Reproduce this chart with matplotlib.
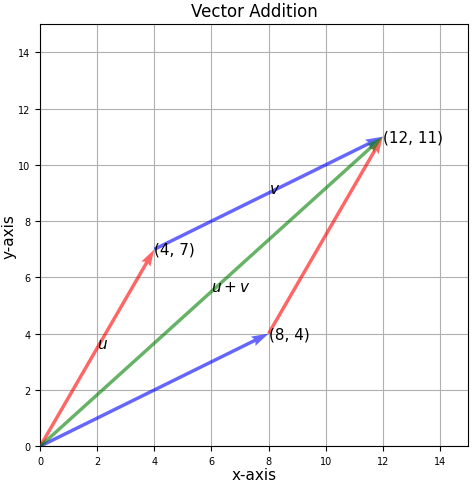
import matplotlib
matplotlib.use("Agg")
import matplotlib.pyplot as plt

# vectors
u = (4, 7)
v = (8, 4)
uv = (u[0] + v[0], u[1] + v[1])

# arrow starts, components and colours
starts_x = [0, u[0], 0, v[0], 0]
starts_y = [0, u[1], 0, v[1], 0]
comps_x = [u[0], v[0], v[0], u[0], uv[0]]
comps_y = [u[1], v[1], v[1], u[1], uv[1]]
colors = ["red", "blue", "blue", "red", "green"]

fig, ax = plt.subplots(figsize=(4.74, 4.85), dpi=100)
fig.subplots_adjust(left=0.085, right=0.988, top=0.948, bottom=0.078)

ax.quiver(starts_x, starts_y, comps_x, comps_y, color=colors, alpha=0.6,
          angles="xy", scale_units="xy", scale=1, width=0.008, zorder=3)

# point labels
ax.text(u[0], u[1], f"({u[0]}, {u[1]})", fontsize=11, va="center")
ax.text(v[0], v[1], f"({v[0]}, {v[1]})", fontsize=11, va="center")
ax.text(uv[0], uv[1], f"({uv[0]}, {uv[1]})", fontsize=11, va="center")

# vector labels
ax.text(2, 3.5, "$u$", fontsize=11)
ax.text(8, 9, "$v$", fontsize=11)
ax.text(6, 5.5, "$u + v$", fontsize=11)

ax.set_xlim(0, 15)
ax.set_ylim(0, 15)
ax.set_xticks(range(0, 15, 2))
ax.set_yticks(range(0, 15, 2))
ax.tick_params(labelsize=7)
ax.grid(True)
ax.set_xlabel("x-axis", fontsize=11, labelpad=1)
ax.set_ylabel("y-axis", fontsize=11, labelpad=1)
ax.set_title("Vector Addition", fontsize=12)

plt.savefig("out.png", dpi=100)
